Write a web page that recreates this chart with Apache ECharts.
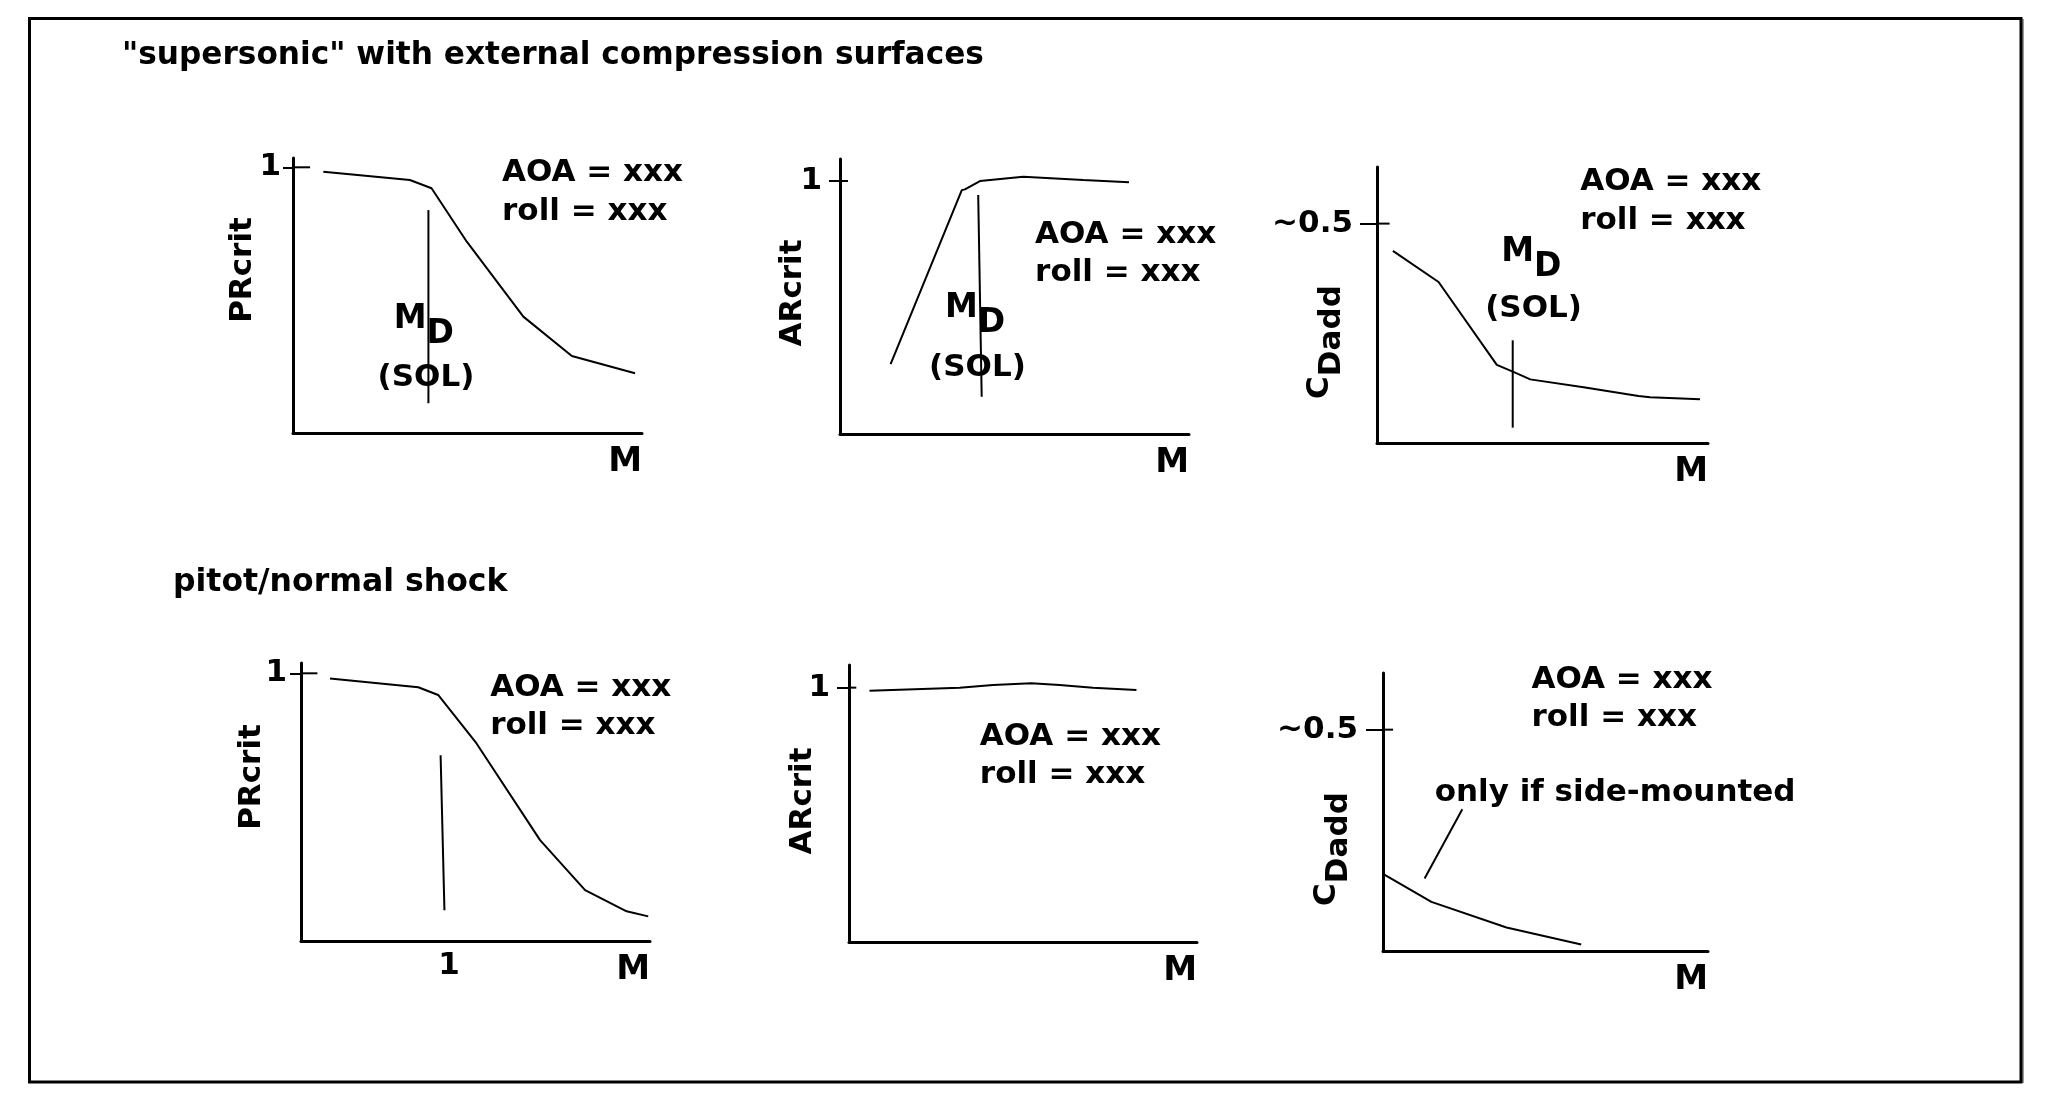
<!DOCTYPE html>
<html><head><meta charset="utf-8">
<script src="https://cdn.jsdelivr.net/npm/echarts@6/dist/echarts.min.js"></script>
<style>html,body{margin:0;padding:0;background:#fff}#c{width:2048px;height:1110px}</style>
</head><body><div id="c"></div>
<script>
// ---------------- data (arbitrary units, M axis 0..10) ----------------
const headings = ['"supersonic" with external compression surfaces', 'pitot/normal shock'];
const yAxisNames = ['PRcrit', 'ARcrit', '{c|C}{d|Dadd}', 'PRcrit', 'ARcrit', '{c|C}{d|Dadd}'];
const xAxisName = 'M';
const yAxisMax = [1.035, 1.087, 0.629, 1.0385, 1.089, 0.628];
const yTickValues = [1, 1, 0.5, 1, 1, 0.5];
const yTickLabels = ['1', '1', '~0.5', '1', '1', '~0.5'];
const machOnePos = 4.24;      // where M = 1 sits on the pitot PRcrit axis
const machOneLabel = '1';

// panel 1: supersonic, PRcrit
const supPrMach = [0.87, 3.35, 3.97, 4.98, 6.60, 7.99, 9.80];
const supPr     = [0.983, 0.952, 0.921, 0.720, 0.438, 0.290, 0.225];
const supPrMdMach = [3.88, 3.88];
const supPrMdY    = [0.839, 0.112];
// panel 2: supersonic, ARcrit
const supArMach = [1.45, 3.49, 3.58, 4.01, 5.25, 6.97, 8.28];
const supAr     = [0.276, 0.964, 0.967, 1.0, 1.017, 1.004, 0.995];
const supArMdMach = [3.96, 4.06];
const supArMdY    = [0.945, 0.147];
// panel 3: supersonic, CDadd
const supCdMach = [0.48, 1.86, 3.62, 4.12, 4.63, 6.24, 7.90, 8.25, 9.76];
const supCd     = [0.438, 0.367, 0.178, 0.162, 0.145, 0.127, 0.107, 0.104, 0.0995];
const supCdMdMach = [4.10, 4.10];
const supCdMdY    = [0.234, 0.035];
// panel 4: pitot, PRcrit
const ptPrMach = [0.83, 3.36, 3.93, 5.03, 6.85, 8.14, 9.33, 9.95];
const ptPr     = [0.981, 0.948, 0.919, 0.738, 0.377, 0.190, 0.111, 0.092];
const ptPrM1Mach = [4.00, 4.11];
const ptPrM1Y    = [0.694, 0.115];
// panel 5: pitot, ARcrit
const ptArMach = [0.59, 3.18, 4.14, 5.24, 6.05, 7.01, 8.26];
const ptAr     = [0.988, 1.0, 1.010, 1.017, 1.010, 1.0, 0.991];
// panel 6: pitot, CDadd
const ptCdMach = [0, 1.49, 3.80, 6.10];
const ptCd     = [0.174, 0.111, 0.053, 0.0145];
const ptCdLeaderMach = [2.44, 1.28];
const ptCdLeaderY    = [0.320, 0.164];

// annotation texts and their anchors (data coords of each panel)
const aoaText = 'AOA = xxx\nroll = xxx';
const mdText = '{m|M}{d|D}';
const solText = '(SOL)';
const sideText = 'only if side-mounted';
const aoaAnchorX = [5.99, 5.59, 6.14, 5.42, 3.76, 4.57];
const aoaAnchorY = [0.905, 0.712, 0.551, 0.875, 0.732, 0.569];
const mdAnchorX = [3.75, 3.87, 4.66];
const mdAnchorY = [0.371, 0.439, 0.401];
const solAnchorX = [3.81, 3.94, 4.73];
const solAnchorY = [0.207, 0.261, 0.305];
const sideAnchor = [1.59, 0.356];

// ---------------- layout / style ----------------
const FONT = 'DejaVu Sans';
const FS = 31;
const txt = (s) => ({fontFamily: FONT, fontWeight: 'bold', fontSize: s, color: '#000'});
const gridBoxes = [
  {left: 293, top: 158, width: 349, height: 275},
  {left: 840, top: 159, width: 349, height: 275},
  {left: 1377, top: 167, width: 331, height: 276},
  {left: 301, top: 663, width: 349, height: 278},
  {left: 849, top: 665, width: 348, height: 277},
  {left: 1383, top: 673, width: 325, height: 278}
];
// tick crossing the y axis: outer part is an axis tick, inner part a short segment
const tickOuterLen = [10, 11, 17, 11, 12, 17];
const tickInnerEnd = [0.49, 0.23, 0.38, 0.47, 0.21, 0.31];
const yLabelMargin = [12, 18, 24, 14, 19, 25];
const yNameGap = [35, 32, 18, 34, 31, 16.5];
const yNamePad = [[0,0,0,51],[0,0,0,7],[0,74,0,0],[0,0,0,50],[0,0,0,5],[0,74,0,0]];

const subRich = {
  c: Object.assign(txt(FS), {lineHeight: FS, verticalAlign: 'top'}),
  d: Object.assign(txt(FS), {lineHeight: FS + 24})
};
const mdRich = {
  m: Object.assign(txt(33), {lineHeight: 33, verticalAlign: 'top'}),
  d: Object.assign(txt(33), {lineHeight: 63})
};

const xAxes = gridBoxes.map((g, i) => ({
  type: 'value', gridIndex: i, min: 0, max: 10,
  axisLine: {show: true, onZero: false, lineStyle: {color: '#000', width: 3}},
  axisTick: {show: false}, splitLine: {show: false},
  axisLabel: i === 3
    ? Object.assign(txt(FS), {show: true, customValues: [machOnePos], formatter: () => machOneLabel, margin: 9})
    : {show: false},
  name: xAxisName, nameLocation: 'end', nameGap: 0, nameMoveOverlap: false,
  nameTextStyle: Object.assign(txt(34), {lineHeight: 34, align: 'right', verticalAlign: 'top', padding: [12, 0, 0, 0]})
}));
const yAxes = gridBoxes.map((g, i) => ({
  type: 'value', gridIndex: i, min: 0, max: yAxisMax[i],
  axisLine: {show: true, onZero: false, lineStyle: {color: '#000', width: 3}},
  axisTick: {show: true, customValues: [yTickValues[i]], length: tickOuterLen[i], lineStyle: {color: '#000', width: 2}},
  splitLine: {show: false},
  axisLabel: Object.assign(txt(FS), {show: true, customValues: [yTickValues[i]], formatter: () => yTickLabels[i], margin: yLabelMargin[i]}),
  name: yAxisNames[i], nameLocation: 'middle', nameRotate: 90, nameGap: yNameGap[i], nameMoveOverlap: false,
  nameTextStyle: Object.assign(txt(FS), {lineHeight: FS, padding: yNamePad[i], rich: subRich})
}));

const pairs = (xs, ys) => xs.map((x, k) => [x, ys[k]]);
function lineS(i, xs, ys, extra) {
  return Object.assign({
    type: 'line', xAxisIndex: i, yAxisIndex: i, data: pairs(xs, ys), symbol: 'none',
    lineStyle: {color: '#000', width: 2}, silent: true, animation: false
  }, extra || {});
}
function tickS(i) {
  return lineS(i, [0, tickInnerEnd[i]], [yTickValues[i], yTickValues[i]], {z: 5});
}
function textS(i, items) {
  return {
    type: 'scatter', xAxisIndex: i, yAxisIndex: i, symbolSize: 0, silent: true, clip: false, animation: false,
    itemStyle: {color: 'rgba(0,0,0,0)', opacity: 1},
    data: items.map(t => ({
      value: [t.x, t.y],
      label: Object.assign(txt(t.fs || FS), {show: true, position: 'inside', formatter: t.text, align: t.align,
        verticalAlign: 'middle', lineHeight: t.lh || FS, opacity: 1, rich: mdRich})
    }))
  };
}

const series = [
  lineS(0, supPrMach, supPr), lineS(0, supPrMdMach, supPrMdY), tickS(0),
  lineS(1, supArMach, supAr), lineS(1, supArMdMach, supArMdY), tickS(1),
  lineS(2, supCdMach, supCd), lineS(2, supCdMdMach, supCdMdY), tickS(2),
  lineS(3, ptPrMach, ptPr), lineS(3, ptPrM1Mach, ptPrM1Y), tickS(3),
  lineS(4, ptArMach, ptAr), tickS(4),
  lineS(5, ptCdMach, ptCd), lineS(5, ptCdLeaderMach, ptCdLeaderY), tickS(5)
];
for (let i = 0; i < 6; i++) {
  const items = [{x: aoaAnchorX[i], y: aoaAnchorY[i], text: aoaText, align: 'left', lh: 38.5}];
  if (i < 3) {
    items.push({x: mdAnchorX[i], y: mdAnchorY[i], text: mdText, align: 'center', lh: 63});
    items.push({x: solAnchorX[i], y: solAnchorY[i], text: solText, align: 'center'});
  }
  if (i === 5) items.push({x: sideAnchor[0], y: sideAnchor[1], text: sideText, align: 'left'});
  series.push(textS(i, items));
}

const chart = echarts.init(document.getElementById('c'), null, {renderer: 'canvas'});
chart.setOption({
  animation: false,
  backgroundColor: '#fff',
  title: [
    {text: headings[0], left: 122, top: 40.5, padding: 0, textStyle: Object.assign(txt(31.2), {lineHeight: 31})},
    {text: headings[1], left: 173, top: 567, padding: 0, textStyle: Object.assign(txt(31.5), {lineHeight: 31})}
  ],
  graphic: [
    {type: 'line', shape: {x1: 2023, y1: 19, x2: 2023, y2: 1083}, style: {stroke: '#999', lineWidth: 2}, silent: true},
    {type: 'rect', shape: {x: 29.5, y: 18.5, width: 1991.5, height: 1063.5}, style: {fill: 'none', stroke: '#000', lineWidth: 3}, silent: true}
  ],
  grid: gridBoxes,
  xAxis: xAxes,
  yAxis: yAxes,
  series: series
});
</script></body></html>
